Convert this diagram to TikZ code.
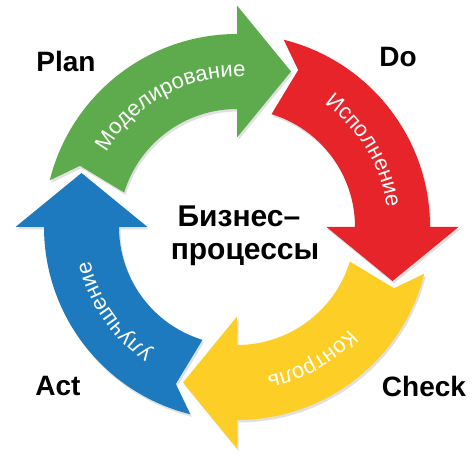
\documentclass[tikz,border=0pt]{standalone}
\usepackage{fontspec}
\setmainfont{Liberation Sans}
\usetikzlibrary{decorations.text}
\definecolor{cgreen}{HTML}{5DAB4C}
\definecolor{cred}{HTML}{E62429}
\definecolor{cyellow}{HTML}{FDCE26}
\definecolor{cblue}{HTML}{1E7ABE}
\newcommand{\pdcashape}[1]{%
  \fill[#1] (166:193) arc[start angle=166,end angle=90,radius=193]
    -- (90:221.5) -- (54,155.5) -- (90:89.5) -- (90:118)
    arc[start angle=90,end angle=163,radius=118]
    -- (158.7:168.5) -- cycle;}
\newcommand{\arctext}{\fontsize{22}{24}\selectfont\color{white}}
\tikzset{
  lbl/.style={font=\fontsize{28}{30}\selectfont\bfseries, anchor=base, inner sep=0pt},
  ctr/.style={font=\fontsize{30}{32}\selectfont\bfseries, anchor=base, inner sep=0pt},
  arclabel/.style={decorate, decoration={text along path, text align=center, text={|\arctext|#1}}}
}
\begin{document}
\begin{tikzpicture}[x=1pt,y=1pt]
\useasboundingbox (0,0) rectangle (474,474);
\coordinate (C) at (237,247);
% shadows
\foreach \r in {0,-90,-180,-270} {
  \begin{scope}[shift={(238.5,244.5)},rotate=\r]
    \pdcashape{black!12}
  \end{scope}
}
% arrows
\foreach \r/\c in {0/cgreen,-90/cred,-180/cyellow,-270/cblue} {
  \begin{scope}[shift={(C)},rotate=\r]
    \pdcashape{\c}
  \end{scope}
}
% arc texts
\path[arclabel=Моделирование] ([shift={(C)}]163.5:150) arc[start angle=163.5,end angle=73.5,radius=150];
\path[arclabel=Исполнение] ([shift={(C)}]76:151) arc[start angle=76,end angle=-14,radius=151];
\path[arclabel=Контроль] ([shift={(C)}]-15.5:152) arc[start angle=-15.5,end angle=-105.5,radius=152];
\path[arclabel=улучшение] ([shift={(C)}]259.5:151) arc[start angle=259.5,end angle=169.5,radius=151];
% labels
\node[lbl] (plan) at (66,402) {Plan};
\node[lbl] (do) at (398,407) {Do};
\node[lbl] (act) at (58,78) {Act};
\node[lbl] (check) at (424,77) {Check};
\node[ctr] (biz1) at (239,247) {Бизнес–};
\node[ctr] (biz2) at (245,214) {процессы};
\end{tikzpicture}
\end{document}
